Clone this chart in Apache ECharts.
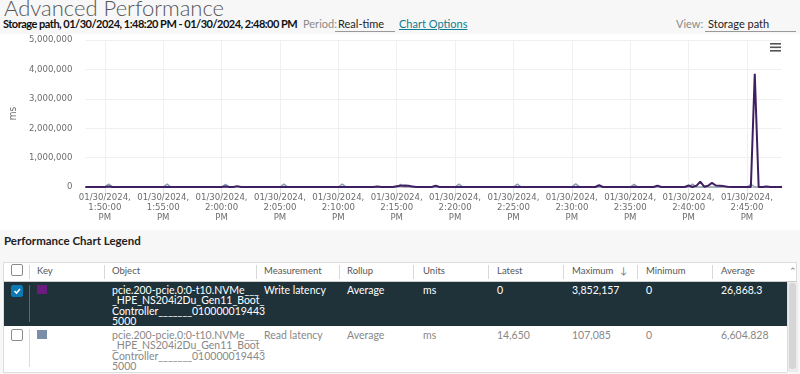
<!DOCTYPE html>
<html><head><meta charset="utf-8">
<script src="https://cdn.jsdelivr.net/npm/echarts@6/dist/echarts.min.js"></script>
<style>
html,body{margin:0;padding:0;}
body{width:800px;height:374px;overflow:hidden;background:#f7f7f7;font-family:Lato,"Noto Sans",sans-serif;position:relative;color:#333;}
.abs{position:absolute;white-space:nowrap;}
#chart{position:absolute;left:0;top:34px;width:800px;height:196px;background:#fff;}
.sel{border-bottom:1px solid #999;}
.hdr{position:absolute;top:262px;left:3px;width:794px;height:20px;background:#fff;border:1px solid #dcdcdc;border-bottom:1px solid #ccc;box-sizing:border-box;}
.h{position:absolute;top:265px;font-size:9.5px;color:#565656;line-height:12px;}
.sep{position:absolute;top:265px;height:14px;width:1px;background:#d8d8d8;}
.row{position:absolute;left:3px;width:784px;height:44px;}
.cell{position:absolute;font-size:10.5px;line-height:10.3px;}
.cb{position:absolute;width:10px;height:10px;border:1px solid #8c8c8c;border-radius:2px;background:#fff;}
</style></head>
<body>
<div class="abs" style="left:4px;top:-5px;font-size:22px;line-height:26px;color:#565656;font-weight:300;">Advanced Performance</div>
<div class="abs" style="left:3px;top:17px;font-size:11px;letter-spacing:-0.5px;line-height:14px;font-weight:700;color:#111;">Storage path, 01/30/2024, 1:48:20 PM - 01/30/2024, 2:48:00 PM</div>
<div class="abs" style="left:303px;top:17px;font-size:11px;line-height:14px;color:#8a8a8a;">Period:</div>
<div class="abs sel" style="left:335px;top:17px;width:60px;font-size:11px;line-height:14px;color:#222;padding-left:3px;box-sizing:border-box;">Real-time</div>
<div class="abs" style="left:399px;top:17px;font-size:11px;line-height:14px;color:#0e7d91;text-decoration:underline;">Chart Options</div>
<div class="abs" style="left:676px;top:17px;font-size:11px;line-height:14px;color:#8a8a8a;">View:</div>
<div class="abs sel" style="left:705px;top:17px;width:91px;font-size:11px;line-height:14px;color:#222;padding-left:3px;box-sizing:border-box;">Storage path</div>
<div id="chart"></div>
<div class="abs" style="left:4px;top:234px;font-size:11.5px;line-height:14px;font-weight:700;color:#222;">Performance Chart Legend</div>

<div class="hdr"></div>
<div class="cb" style="left:11px;top:264px;"></div>
<div class="sep" style="left:29px"></div><div class="sep" style="left:104px"></div><div class="sep" style="left:256px"></div><div class="sep" style="left:339px"></div><div class="sep" style="left:413px"></div><div class="sep" style="left:488px"></div><div class="sep" style="left:563px"></div><div class="sep" style="left:637px"></div><div class="sep" style="left:712px"></div>
<div class="h" style="left:37px">Key</div>
<div class="h" style="left:112px">Object</div>
<div class="h" style="left:264px">Measurement</div>
<div class="h" style="left:347px">Rollup</div>
<div class="h" style="left:423px">Units</div>
<div class="h" style="left:497px">Latest</div>
<div class="h" style="left:572px">Maximum</div>
<div class="h" style="left:620px;color:#777">&#8595;</div>
<div class="h" style="left:646px">Minimum</div>
<div class="h" style="left:721px">Average</div>
<div class="h" style="left:789px;color:#777;font-size:9px">&#8963;</div>
<div class="abs" style="left:787px;top:282px;width:10px;height:90px;background:#ececec;border-left:1px solid #ddd;"></div>
<div class="abs" style="left:789px;top:283px;width:7px;height:86px;background:#d6d6d6;border-radius:3px;"></div>

<div class="row" style="top:282px;background:#203239;"></div>
<div class="row" style="top:326px;background:#fff;height:46px;border-bottom:1px solid #ddd;"></div>
<div class="abs" style="left:3px;top:282px;width:1px;height:90px;background:#ddd"></div>
<div class="abs" style="left:29px;top:285px;width:1px;height:37px;background:#5a6a70"></div>
<div class="abs" style="left:29px;top:329px;width:1px;height:38px;background:#dcdcdc"></div>

<div class="cb" style="left:11px;top:285px;background:#0b79b3;border-color:#0b79b3;"></div>
<svg class="abs" style="left:12px;top:286px" width="10" height="10"><polyline points="2.5,5 4.5,7 8,3" fill="none" stroke="#fff" stroke-width="1.6"/></svg>
<div class="abs" style="left:37px;top:285px;width:10px;height:9px;background:#6a1b80"></div>
<div class="cell" style="left:112px;top:285px;color:#fff;">pcie.200-pcie.0:0-t10.NVMe___<br>_HPE_NS204i2Du_Gen11_Boot_<br>Controller_______010000019443<br>5000</div>
<div class="cell" style="left:264px;top:285px;color:#fff;">Write latency</div>
<div class="cell" style="left:347px;top:285px;color:#fff;">Average</div>
<div class="cell" style="left:423px;top:285px;color:#fff;">ms</div>
<div class="cell" style="left:497px;top:285px;color:#fff;">0</div>
<div class="cell" style="left:572px;top:285px;color:#fff;">3,852,157</div>
<div class="cell" style="left:646px;top:285px;color:#fff;">0</div>
<div class="cell" style="left:721px;top:285px;color:#fff;">26,868.3</div>

<div class="cb" style="left:11px;top:329px;"></div>
<div class="abs" style="left:37px;top:330px;width:10px;height:9px;background:#7b8ea8"></div>
<div class="cell" style="left:112px;top:330px;color:#888;">pcie.200-pcie.0:0-t10.NVMe___<br>_HPE_NS204i2Du_Gen11_Boot_<br>Controller_______010000019443<br>5000</div>
<div class="cell" style="left:264px;top:330px;color:#888;">Read latency</div>
<div class="cell" style="left:347px;top:330px;color:#888;">Average</div>
<div class="cell" style="left:423px;top:330px;color:#888;">ms</div>
<div class="cell" style="left:497px;top:330px;color:#888;">14,650</div>
<div class="cell" style="left:572px;top:330px;color:#888;">107,085</div>
<div class="cell" style="left:646px;top:330px;color:#888;">0</div>
<div class="cell" style="left:721px;top:330px;color:#888;">6,604.828</div>

<script>
// Sampling: real-time, 20 s per sample, 180 samples starting 01/30/2024 1:48:20 PM
const startTime = Date.UTC(2024, 0, 30, 13, 48, 20);
const stepMs = 20000;
const firstLabelIndex = 5;   // 1:50:00 PM
const labelEvery = 15;       // every 5 minutes

// Write latency (ms)
const writeLatency = [
 0,0,0,0,0,0,20000,0,0,0, 0,0,0,0,0,0,0,0,0,0,
 0,0,0,0,0,0,0,0,0,0, 0,0,0,0,0,0,15000,0,0,30000,
 0,0,0,0,0,0,0,0,0,0, 0,0,0,0,0,0,0,0,0,0,
 0,0,0,0,0,0,0,0,0,0, 0,0,0,0,0,20000,0,0,0,0,
 25000,45000,50000,40000,20000,0,0,0,0,0, 40000,0,0,0,0,0,0,0,0,0,
 0,0,0,0,0,0,0,0,0,0, 0,0,0,0,0,0,0,0,0,0,
 0,0,0,0,0,0,0,0,0,0, 0,0,60000,0,0,0,0,0,0,0,
 0,0,0,0,0,0,0,45000,0,0, 0,0,0,0,0,50000,0,40000,180000,10000,
 40000,140000,50000,40000,30000,10000,0,0,0,0, 0,0,3852157,0,0,20000,0,0,0,0
];
// Read latency (ms)
const readLatency = [
 0,0,0,0,0,4000,95000,3000,0,0, 0,0,0,0,0,0,0,0,0,0,
 0,98000,0,0,0,0,0,0,0,0, 0,0,0,0,0,0,92000,0,0,0,
 0,0,0,0,0,0,0,0,0,0, 0,100000,0,0,0,0,0,0,0,0,
 0,0,0,0,0,0,97000,0,0,0, 0,0,0,0,0,0,0,0,0,0,
 0,90000,0,0,0,0,0,0,0,0, 0,0,0,0,0,0,99000,0,0,0,
 0,0,0,0,0,0,0,0,0,0, 0,96000,0,0,0,0,0,0,0,0,
 0,0,0,0,0,4000,107085,3000,0,0, 0,0,0,0,0,0,0,0,0,0,
 0,93000,0,0,0,0,0,0,0,0, 0,0,0,0,0,0,94000,0,0,0,
 0,0,0,0,0,0,0,0,0,0, 0,91000,0,0,0,0,0,0,8000,14650
];
const seriesNames = ['Read latency', 'Write latency'];
const seriesColors = ['#8d9db3', '#3f1f62'];
const axisFont = '"DejaVu Sans", sans-serif';
const axisStretch = 'condensed';

const pad = n => String(n).padStart(2, '0');
function fmt(v) {
  const d = new Date(v);
  let h = d.getUTCHours(); const ap = h >= 12 ? 'PM' : 'AM';
  h = h % 12; if (h === 0) h = 12;
  return pad(d.getUTCMonth() + 1) + '/' + pad(d.getUTCDate()) + '/' + d.getUTCFullYear() + ',\n' +
    h + ':' + pad(d.getUTCMinutes()) + ':' + pad(d.getUTCSeconds()) + '\n' + ap;
}
const categories = writeLatency.map((_, i) => fmt(startTime + i * stepMs));
const showIdx = i => (i - firstLabelIndex) % labelEvery === 0 && i >= firstLabelIndex;

const chart = echarts.init(document.getElementById('chart'), null, {renderer: 'canvas'});
chart.setOption({
  animation: false,
  grid: {left: 79, right: 18, top: 6, bottom: 43},
  xAxis: {
    type: 'category', data: categories, boundaryGap: false,
    axisLine: {show: true, lineStyle: {color: '#c8c8c8'}},
    axisTick: {show: true, length: 8, interval: showIdx, lineStyle: {color: '#e2e2e2'}},
    splitLine: {show: true, interval: showIdx, lineStyle: {color: '#f0f0f0'}},
    axisLabel: {interval: showIdx, color: '#6d6d6d', fontSize: 9.5, lineHeight: 10, margin: 6,
      fontStyle: axisStretch, fontFamily: axisFont}
  },
  yAxis: {
    type: 'value', min: 0, max: 5000000, interval: 1000000,
    name: 'ms', nameLocation: 'middle', nameGap: 45, nameRotate: 90,
    nameTextStyle: {color: '#6d6d6d', fontSize: 10, fontStyle: axisStretch, fontFamily: axisFont},
    axisLine: {show: false}, axisTick: {show: false},
    splitLine: {lineStyle: {color: '#f0f0f0'}},
    axisLabel: {color: '#6d6d6d', fontSize: 9.5, margin: 13, fontStyle: axisStretch, fontFamily: axisFont,
      formatter: v => v.toLocaleString('en-US')}
  },
  graphic: [
    {type: 'rect', left: 770, top: 9, shape: {width: 11, height: 1.6}, style: {fill: '#555'}},
    {type: 'rect', left: 770, top: 12.5, shape: {width: 11, height: 1.6}, style: {fill: '#555'}},
    {type: 'rect', left: 770, top: 16, shape: {width: 11, height: 1.6}, style: {fill: '#555'}}
  ],
  series: [
    {name: seriesNames[0], type: 'line', data: readLatency, symbol: 'none',
      lineStyle: {color: seriesColors[0], width: 1.5}, itemStyle: {color: seriesColors[0]}},
    {name: seriesNames[1], type: 'line', data: writeLatency, symbol: 'none',
      lineStyle: {color: seriesColors[1], width: 2}, itemStyle: {color: seriesColors[1]}}
  ]
});
</script>
</body></html>
